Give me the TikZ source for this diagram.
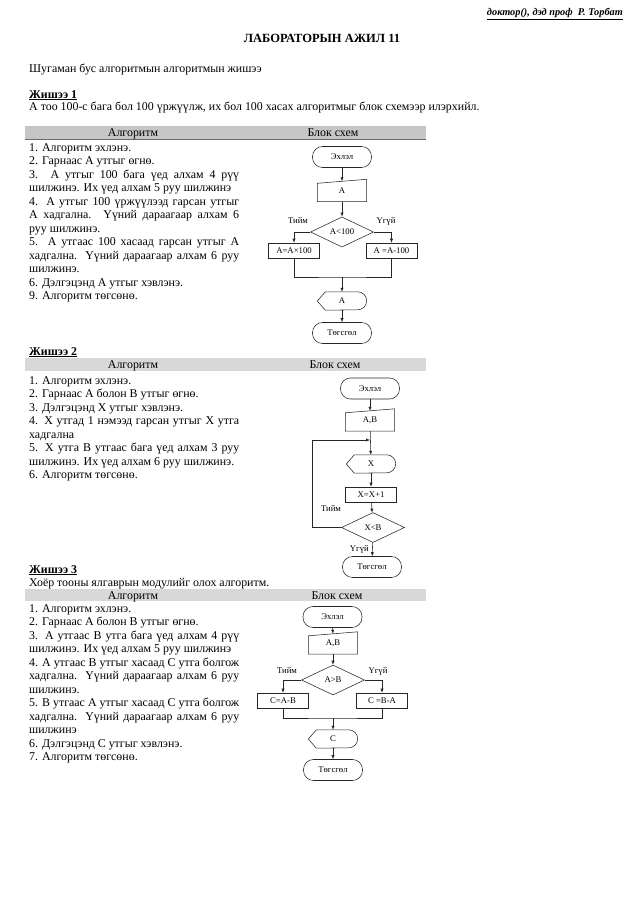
\documentclass[tikz,border=0pt]{standalone}
\usepackage{fontspec}
\setmainfont{Liberation Serif}
\usetikzlibrary{positioning, arrows.meta, shapes.geometric, calc}
\definecolor{cBar}{HTML}{C6C6C6}
\definecolor{cBarB}{HTML}{6A6A6A}
\definecolor{cBarL}{HTML}{D8D8D8}
\setlength{\parindent}{0pt}
\tolerance=9999
\hbadness=10000
\newcommand{\flowfont}{\fontsize{8.7}{10}\selectfont}
\tikzset{
  body/.style      ={font=\fontsize{11.9}{13.5}\selectfont, inner sep=0pt},
  steps/.style     ={body, anchor=north west, text width=210pt, align=justify},
  line/.style      ={body, anchor=base west},
  heading/.style   ={body, anchor=base},
  bar/.style       ={fill=cBar, draw=none, minimum width=401pt, inner sep=0pt},
  flowline/.style  ={line width=0.55pt, draw=black!85},
  flow/.style      ={flowline, -{Latex[length=4pt,width=3.2pt]}},
  terminal/.style  ={draw, flowline, rounded corners=10pt, minimum width=59pt, minimum height=21pt,
                     inner sep=0pt, font=\flowfont},
  procbox/.style   ={draw, flowline, minimum width=51pt, minimum height=15pt, inner sep=0pt, font=\flowfont},
  decision/.style  ={draw, flowline, diamond, minimum width=63pt, minimum height=30pt, inner sep=0pt,
                     font=\flowfont},
  inbox/.style     ={minimum width=49pt, minimum height=22pt, inner sep=0pt, font=\flowfont,
                     append after command={\pgfextra{\draw[flowline] (\tikzlastnode.south west)
                       -- (\tikzlastnode.south east) -- (\tikzlastnode.north east)
                       -- ($(\tikzlastnode.north west)+(0,4)$) -- cycle;}}},
  outbox/.style    ={minimum width=49pt, minimum height=18pt, inner sep=0pt, font=\flowfont,
                     append after command={\pgfextra{\draw[flowline] (\tikzlastnode.west)
                       -- ([xshift=8pt]\tikzlastnode.north west) -- ([xshift=-9pt]\tikzlastnode.north east)
                       arc[start angle=90, end angle=-90, radius=9pt]
                       -- ([xshift=8pt]\tikzlastnode.south west) -- cycle;}}},
  branch/.style    ={font=\flowfont, inner sep=0pt}
}

\begin{document}
\begin{tikzpicture}[x=1pt, y=-1pt]
  \useasboundingbox (0,0) rectangle (638,902);

  % ---------- page head ----------
  \node[anchor=base east, inner sep=0pt, font=\fontsize{10.3}{12}\selectfont\bfseries\itshape] (author) at (623,16)
        {\underline{доктор(), дэд проф\ \ Р. Торбат}};
  \node[heading, font=\fontsize{12.5}{14}\selectfont\bfseries] (title) at (322,42) {ЛАБОРАТОРЫН АЖИЛ 11};
  \node[line] (intro) at (29,72) {Шугаман бус алгоритмын алгоритмын жишээ};

  % ---------- Жишээ 1 ----------
  \node[line] (ex1) at (29,98) {\underline{\textbf{Жишээ 1}}};
  \node[line] (task1) at (29,110) {А тоо 100-с бага бол 100 үржүүлж, их бол 100 хасах алгоритмыг блок схемээр илэрхийл.};
  \node[bar, minimum height=13pt] (bar1) at (225.5,132.5) {};
  \draw[cBarB, line width=1.2pt] (bar1.south west) -- (bar1.south east);
  \node[heading] (alg1) at (133,136.5) {Алгоритм};
  \node[heading] (blk1) at (333,136.5) {Блок схем};
  \node[steps] (text1) at (29,141.5) {\strut
    1. Алгоритм эхлэнэ.\par
    2. Гарнаас А утгыг өгнө.\par
    3. А утгыг 100 бага үед алхам 4 рүү\linebreak шилжинэ.  Их үед алхам 5 руу шилжинэ\par
    4. А утгыг 100 үржүүлээд гарсан утгыг\linebreak А хадгална. Үүний дараагаар алхам 6\linebreak руу шилжинэ.\par
    5. А утгаас 100 хасаад гарсан утгыг А\linebreak хадгална. Үүний дараагаар алхам 6 руу\linebreak шилжинэ.\par
    6. Дэлгэцэнд  А утгыг хэвлэнэ.\par
    9. Алгоритм төгсөнө.};

  \node[terminal] (start1) at (342,157) {Эхлэл};
  \node[inbox]    (in1)    at (342,190.5) {А};
  \node[decision] (dec1)   at (342,232) {А<100};
  \node[procbox]  (yes1)   at (294,250.5) {А=А×100};
  \node[procbox]  (no1)    at (391.5,250.5) {А =А-100};
  \coordinate     (join1)  at (342,277);
  \node[outbox]   (out1)   at (342,301) {А};
  \node[terminal] (end1)   at (342,333) {Төгсгөл};

  \draw[flow, shorten >=-2pt] (start1) -- (in1);
  \draw[flow] (in1) -- (dec1);
  \draw[flow] (dec1.west) -| (yes1.north);
  \draw[flow] (dec1.east) -| (no1.north);
  \draw[flowline] (yes1.south) |- (join1) -| (no1.south);
  \draw[flow] (join1) -- (out1);
  \draw[flow] (out1) -- (end1);
  \node[branch] (t1) at (298,221) {Тийм};
  \node[branch] (f1) at (386,221) {Үгүй};

  % ---------- Жишээ 2 ----------
  \node[line] (ex2) at (29,355) {\underline{\textbf{Жишээ 2}}};
  \node[bar, fill=cBarL, minimum height=13pt] (bar2) at (225.5,364.5) {};
  \node[heading] (alg2) at (133,368.5) {Алгоритм};
  \node[heading] (blk2) at (335,368.5) {Блок схем};
  \node[steps] (text2) at (29,374.5) {\strut
    1. Алгоритм эхлэнэ.\par
    2. Гарнаас А болон В утгыг өгнө.\par
    3. Дэлгэцэнд  Х утгыг хэвлэнэ.\par
    4. Х утгад 1 нэмээд гарсан утгыг Х утга\linebreak хадгална\par
    5. Х утга В утгаас бага үед алхам 3 руу\linebreak шилжинэ.  Их үед алхам 6 руу шилжинэ.\par
    6. Алгоритм төгсөнө.};

  \node[terminal] (start2) at (370,388.5) {Эхлэл};
  \node[inbox]    (in2)    at (370,420) {А,В};
  \coordinate     (join2)  at (370,440);
  \coordinate     (back2)  at (312,440);
  \node[outbox]   (out2)   at (371,464) {Х};
  \node[procbox]  (inc2)   at (371,494.5) {Х=Х+1};
  \node[decision] (dec2)   at (373,527.5) {Х<В};
  \node[terminal] (end2)   at (372,567) {Төгсгөл};

  \draw[flow, shorten >=-2pt] (start2) -- (in2);
  \draw[flow] (in2) -- (out2);
  \draw[flow] (dec2.west) -| (back2) -- (join2);
  \draw[flow] (out2) -- (inc2);
  \draw[flow] (inc2) -- (dec2);
  \draw[flow] (dec2) -- (end2);
  \node[branch] (t2) at (331,509) {Тийм};
  \node[branch, anchor=east] (f2) at (369,549) {Үгүй};

  % ---------- Жишээ 3 ----------
  \node[line] (ex3) at (29,573) {\underline{\textbf{Жишээ 3}}};
  \node[line] (task3) at (29,586) {Хоёр тооны ялгаврын модулийг олох алгоритм.};
  \node[bar, fill=cBarL, minimum height=12pt] (bar3) at (225.5,595) {};
  \node[heading] (alg3) at (133,599) {Алгоритм};
  \node[heading] (blk3) at (337,599) {Блок схем};
  \node[steps] (text3) at (29,602.5) {\strut
    1. Алгоритм эхлэнэ.\par
    2. Гарнаас А болон В утгыг өгнө.\par
    3. А утгаас В утга бага үед алхам 4 рүү\linebreak шилжинэ.  Их үед алхам 5 руу шилжинэ\par
    4. А утгаас В утгыг хасаад С утга болгож\linebreak хадгална. Үүний дараагаар алхам 6 руу\linebreak шилжинэ.\par
    5. В утгаас А утгыг хасаад С утга болгож\linebreak хадгална. Үүний дараагаар алхам 6 руу\linebreak шилжинэ\par
    6. Дэлгэцэнд  С утгыг хэвлэнэ.\par
    7. Алгоритм төгсөнө.};

  \node[terminal] (start3) at (332.5,617) {Эхлэл};
  \node[inbox]    (in3)    at (333,643) {А,В};
  \node[decision] (dec3)   at (333,680) {А>В};
  \node[procbox]  (yes3)   at (283,700.5) {С=А-В};
  \node[procbox]  (no3)    at (382,700.5) {С =В-А};
  \coordinate     (join3)  at (333,718);
  \node[outbox]   (out3)   at (333,739) {С};
  \node[terminal] (end3)   at (333,770) {Төгсгөл};

  \draw[flow, shorten >=-2pt] (start3) -- (in3);
  \draw[flow] (in3) -- (dec3);
  \draw[flow] (dec3.west) -| (yes3.north);
  \draw[flow] (dec3.east) -| (no3.north);
  \draw[flowline] (yes3.south) |- (join3) -| (no3.south);
  \draw[flow] (join3) -- (out3);
  \draw[flow] (out3) -- (end3);
  \node[branch] (t3) at (287,671) {Тийм};
  \node[branch] (f3) at (378,671) {Үгүй};
\end{tikzpicture}
\end{document}
